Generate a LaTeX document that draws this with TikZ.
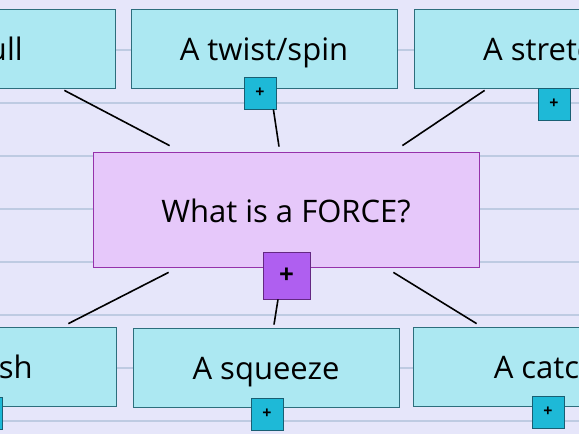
\documentclass[tikz,border=0pt]{standalone}
\usepackage{fontspec}
\setmainfont{Open Sans}
\usepackage{xcolor}
\usepackage{tikz}
\usetikzlibrary{positioning}

\definecolor{slidebg}{RGB}{230,230,250}
\definecolor{ruleline}{RGB}{190,203,226}
\definecolor{answerfill}{RGB}{172,232,242}
\definecolor{answerdraw}{RGB}{45,110,125}
\definecolor{plusfill}{RGB}{30,185,215}
\definecolor{plusdraw}{RGB}{25,95,115}
\definecolor{forcefill}{RGB}{230,200,250}
\definecolor{forcedraw}{RGB}{150,50,170}
\definecolor{bigplusfill}{RGB}{175,95,240}
\definecolor{bigplusdraw}{RGB}{100,40,130}

\begin{document}
\begin{tikzpicture}[x=1pt, y=-1pt,
  answer/.style={draw=answerdraw, fill=answerfill, line width=0.8pt,
    minimum width=266pt, minimum height=79pt, inner sep=0pt,
    text height=26pt, text depth=2pt, font=\fontsize{31}{36}\selectfont},
  plusbox/.style={draw=plusdraw, fill=plusfill, line width=0.8pt,
    minimum size=32pt, inner sep=0pt, font=\fontsize{16}{18}\selectfont\bfseries},
  link/.style={black, line width=1.6pt}]
\useasboundingbox (0,0) rectangle (579,434);
\clip (0,0) rectangle (579,434);
% Slide background with ruled lines
\fill[slidebg] (0,0) rectangle (579,434);
\foreach \y in {50,103,156,209,262,315,368,421} {
  \draw[ruleline, line width=1.2pt] (0,\y) -- (579,\y);
}
% Central question
\node[draw=forcedraw, fill=forcefill, line width=0.8pt, minimum width=386pt,
      minimum height=115pt, inner sep=0pt, text height=27pt, text depth=2pt,
      font=\fontsize{31}{36}\selectfont]
     (force) at (286,209.5) {What is a FORCE?};
\node[draw=bigplusdraw, fill=bigplusfill, line width=0.8pt, minimum size=47pt,
      inner sep=0pt, font=\fontsize{26}{30}\selectfont\bfseries]
     (forceplus) at (286.5,275.5) {+};
% Top row of answers
\node[answer] (pull) at (-18,48.5) {A pull};
\node[answer] (twist) at (264,48.5) {A twist/spin};
\node[answer] (stretch) at (547,48.5) {A stretch};
\node[plusbox] (twistplus) at (260,93) {+};
\node[plusbox] (stretchplus) at (554,104) {+};
% Bottom row of answers
\node[answer] (push) at (-17,366.5) {A push};
\node[answer] (squeeze) at (266,367.5) {A squeeze};
\node[answer] (catch) at (546,366.5) {A catch};
\node[plusbox] (pushplus) at (-14,413) {+};
\node[plusbox] (squeezeplus) at (267,414) {+};
\node[plusbox] (catchplus) at (548,412) {+};
% Connectors to the question
\draw[link] ([xshift=-51pt,yshift=-2pt]pull.south east) -- ([xshift=77pt,yshift=6pt]force.north west);
\draw[link] ([xshift=-3pt]twistplus.south east) -- ([xshift=-7pt,yshift=5pt]force.north);
\draw[link] ([xshift=71pt,yshift=-2pt]stretch.south west) -- ([xshift=-77pt,yshift=6pt]force.north east);
\draw[link] ([xshift=76pt,yshift=-5pt]force.south west) -- ([xshift=-48pt,yshift=3pt]push.north east);
\draw[link] ([xshift=-8.5pt]forceplus.south) -- ([xshift=8pt,yshift=3pt]squeeze.north);
\draw[link] ([xshift=-86pt,yshift=-5pt]force.south east) -- ([xshift=64pt,yshift=3pt]catch.north west);
\end{tikzpicture}
\end{document}
